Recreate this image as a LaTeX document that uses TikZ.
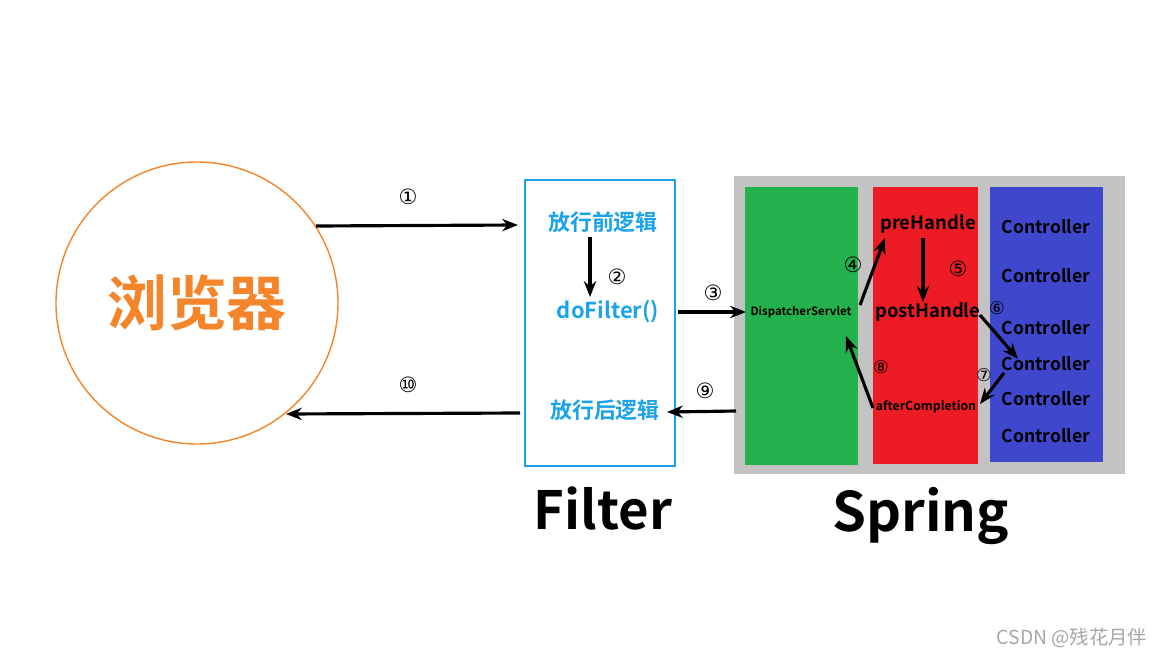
\documentclass[tikz,border=0pt]{standalone}
\usepackage{fontspec}
\setmainfont{Noto Sans CJK SC}[BoldFont={* Bold}]
\newfontfamily\sym{DejaVu Sans}
\usetikzlibrary{arrows.meta}
\definecolor{orng}{HTML}{F5852B}
\definecolor{fblue}{HTML}{1AA3E8}
\definecolor{sgray}{HTML}{C3C3C3}
\definecolor{sgreen}{HTML}{22B14C}
\definecolor{sred}{HTML}{ED1C24}
\definecolor{sblue}{HTML}{3F48CC}
\begin{document}
\begin{tikzpicture}[x=0.02cm,y=-0.02cm,
 arr/.style={line width=1.8pt,-{Stealth[length=9pt,width=7pt]}},
 num/.style={font=\sym\fontsize{12}{12}\selectfont},
 ctl/.style={font=\bfseries\fontsize{10}{10}\selectfont},
 blt/.style={font=\bfseries\fontsize{12.5}{13}\selectfont,text=fblue}]
\useasboundingbox (0,0) rectangle (1164,659);
\node[draw=orng,thick,circle,minimum size=282*0.02cm] (br) at (197,303) {};
\node[text=orng,font=\bfseries\fontsize{34}{34}\selectfont] (brt) at (197,303) {浏览器};
\draw[fblue,thick] (525,180) rectangle (675,466);
\node[blt] (pre) at (603,222) {放行前逻辑};
\node[blt] (df) at (608,312) {doFilter()};
\node[blt] (post) at (605,410) {放行后逻辑};
\fill[sgray] (734,176) rectangle (1125,474);
\fill[sgreen] (745,187) rectangle (858,465);
\fill[sred] (873,187) rectangle (978,464);
\fill[sblue] (990,187) rectangle (1103,462);
\node[font=\bfseries\fontsize{6.5}{7}\selectfont,inner sep=1pt] (ds) at (801,312) {DispatcherServlet};
\node[ctl,font=\bfseries\fontsize{10.5}{11}\selectfont] (ph) at (928,224) {preHandle};
\node[ctl,font=\bfseries\fontsize{10.5}{11}\selectfont] (poh) at (928,312) {postHandle};
\node[font=\bfseries\fontsize{7}{7}\selectfont,inner sep=1pt] (ac) at (926,407) {afterCompletion};
\foreach \y/\n in {227/c1,276/c2,328/c3,364/c4,399/c5,436/c6}
  \node[ctl] (\n) at (1046,\y) {Controller};
\coordinate (a1s) at (316,226); \coordinate (a1e) at (518,225);
\draw[arr] (a1s) -- (a1e);
\draw[arr] (590,237) -- (590,297);
\draw[arr] (678,312) -- (746,312);
\draw[arr] (860,305) -- (885,238);
\draw[arr] (923,238) -- (923,302);
\draw[arr] (980,315) -- (1018,359);
\draw[arr] (1004,373) -- (980,404);
\draw[arr] (873,408) -- (846,336);
\draw[arr] (736,411) -- (667,412);
\draw[arr] (520,413) -- (286,414);
\node[num] at (408,197) {①};
\node[num] at (617,277) {②};
\node[num] at (713,293) {③};
\node[num] at (853,265) {④};
\node[num] at (958,269) {⑤};
\node[num,font=\sym\fontsize{10}{10}\selectfont] at (997,308) {⑥};
\node[num,font=\sym\fontsize{10}{10}\selectfont] at (984,375) {⑦};
\node[num,font=\sym\fontsize{10}{10}\selectfont] at (881,367) {⑧};
\node[num] at (705,391) {⑨};
\node[num] at (408,385) {⑩};
\node[font=\bfseries\fontsize{30}{30}\selectfont] (fl) at (603,508) {Filter};
\node[font=\bfseries\fontsize{31}{31}\selectfont] (sp) at (921,516) {Spring};
\node[text=black!35,font=\fontsize{11}{11}\selectfont] (wm) at (1072,638) {CSDN @残花月伴};
\end{tikzpicture}
\end{document}
